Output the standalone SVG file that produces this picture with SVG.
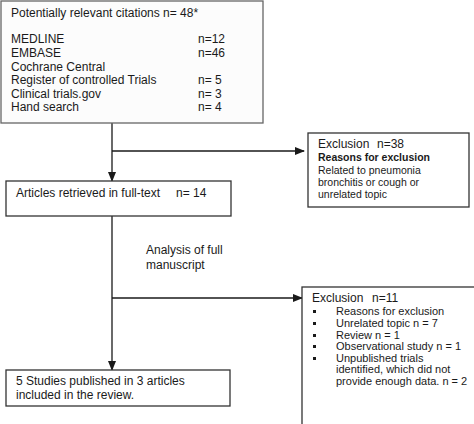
<svg xmlns="http://www.w3.org/2000/svg" width="474" height="424" viewBox="0 0 474 424">
<style>
.box{fill:#fff;stroke:#333;stroke-width:1.3}
.t{font-family:"Liberation Sans",Arial,sans-serif;font-size:12px;fill:#1a1a1a}
.s{font-size:11px}
.r{font-size:10.5px}
.b{font-weight:bold}
.line{stroke:#1a1a1a;stroke-width:1.3;fill:none}
.bul{fill:#1a1a1a}
</style>
<defs>
<marker id="ah" markerWidth="10" markerHeight="8" refX="9" refY="4" orient="auto" markerUnits="userSpaceOnUse">
<path d="M0,0 L10,4 L0,8 z" fill="#1a1a1a"/>
</marker>
</defs>
<g id="connectors">
<line class="line" x1="112" y1="123" x2="112" y2="181" marker-end="url(#ah)"/>
<line class="line" x1="112" y1="151" x2="304" y2="151" marker-end="url(#ah)"/>
<line class="line" x1="112" y1="216" x2="112" y2="370" marker-end="url(#ah)"/>
<line class="line" x1="112" y1="298" x2="302" y2="298" marker-end="url(#ah)"/>
<text class="t" x="146" y="254">Analysis of full</text>
<text class="t" x="146" y="269">manuscript</text>
</g>
<g id="citations">
<rect class="box" x="1" y="1" width="262" height="122" style="stroke:#666;fill:#fcfcfc"/>
<text class="t" x="11" y="17">Potentially relevant citations n= 48*</text>
<text class="t" x="11" y="43">MEDLINE</text><text class="t" x="198" y="43">n=12</text>
<text class="t" x="11" y="57">EMBASE</text><text class="t" x="198" y="57">n=46</text>
<text class="t" x="11" y="71">Cochrane Central</text>
<text class="t" x="11" y="84">Register of controlled Trials</text><text class="t" x="198" y="84">n= 5</text>
<text class="t" x="11" y="98">Clinical trials.gov</text><text class="t" x="198" y="98">n= 3</text>
<text class="t" x="11" y="111">Hand search</text><text class="t" x="198" y="111">n= 4</text>
</g>
<g id="exclusion1">
<rect class="box" x="308" y="133" width="161" height="74"/>
<text class="t" x="318" y="148">Exclusion</text><text class="t" x="377" y="148">n=38</text>
<text class="t r b" x="318" y="161">Reasons for exclusion</text>
<text class="t r" x="318" y="174">Related to pneumonia</text>
<text class="t r" x="318" y="186">bronchitis or cough or</text>
<text class="t r" x="318" y="198">unrelated topic</text>
</g>
<g id="fulltext">
<rect class="box" x="6" y="181" width="225" height="35"/>
<text class="t" x="16" y="197">Articles retrieved in full-text</text><text class="t" x="176" y="197">n= 14</text>
</g>
<g id="exclusion2">
<rect class="box" x="302" y="287" width="190" height="150"/>
<text class="t" x="312" y="302">Exclusion</text><text class="t" x="372" y="302">n=11</text>
<rect class="bul" x="313" y="310" width="3" height="3"/>
<text class="t s" x="336" y="315">Reasons for exclusion</text>
<rect class="bul" x="313" y="322" width="3" height="3"/>
<text class="t s" x="336" y="327">Unrelated topic  n = 7</text>
<rect class="bul" x="313" y="334" width="3" height="3"/>
<text class="t s" x="336" y="339">Review n = 1</text>
<rect class="bul" x="313" y="345" width="3" height="3"/>
<text class="t s" x="336" y="350">Observational study n = 1</text>
<rect class="bul" x="313" y="357" width="3" height="3"/>
<text class="t s" x="336" y="362">Unpublished trials</text>
<text class="t s" x="336" y="373">identified, which did not</text>
<text class="t s" x="336" y="385">provide enough data. n = 2</text>
</g>
<g id="included">
<rect class="box" x="6" y="370" width="224" height="36"/>
<text class="t" x="16" y="385">5 Studies published in 3 articles</text>
<text class="t" x="16" y="399">included in the review.</text>
</g>
</svg>
